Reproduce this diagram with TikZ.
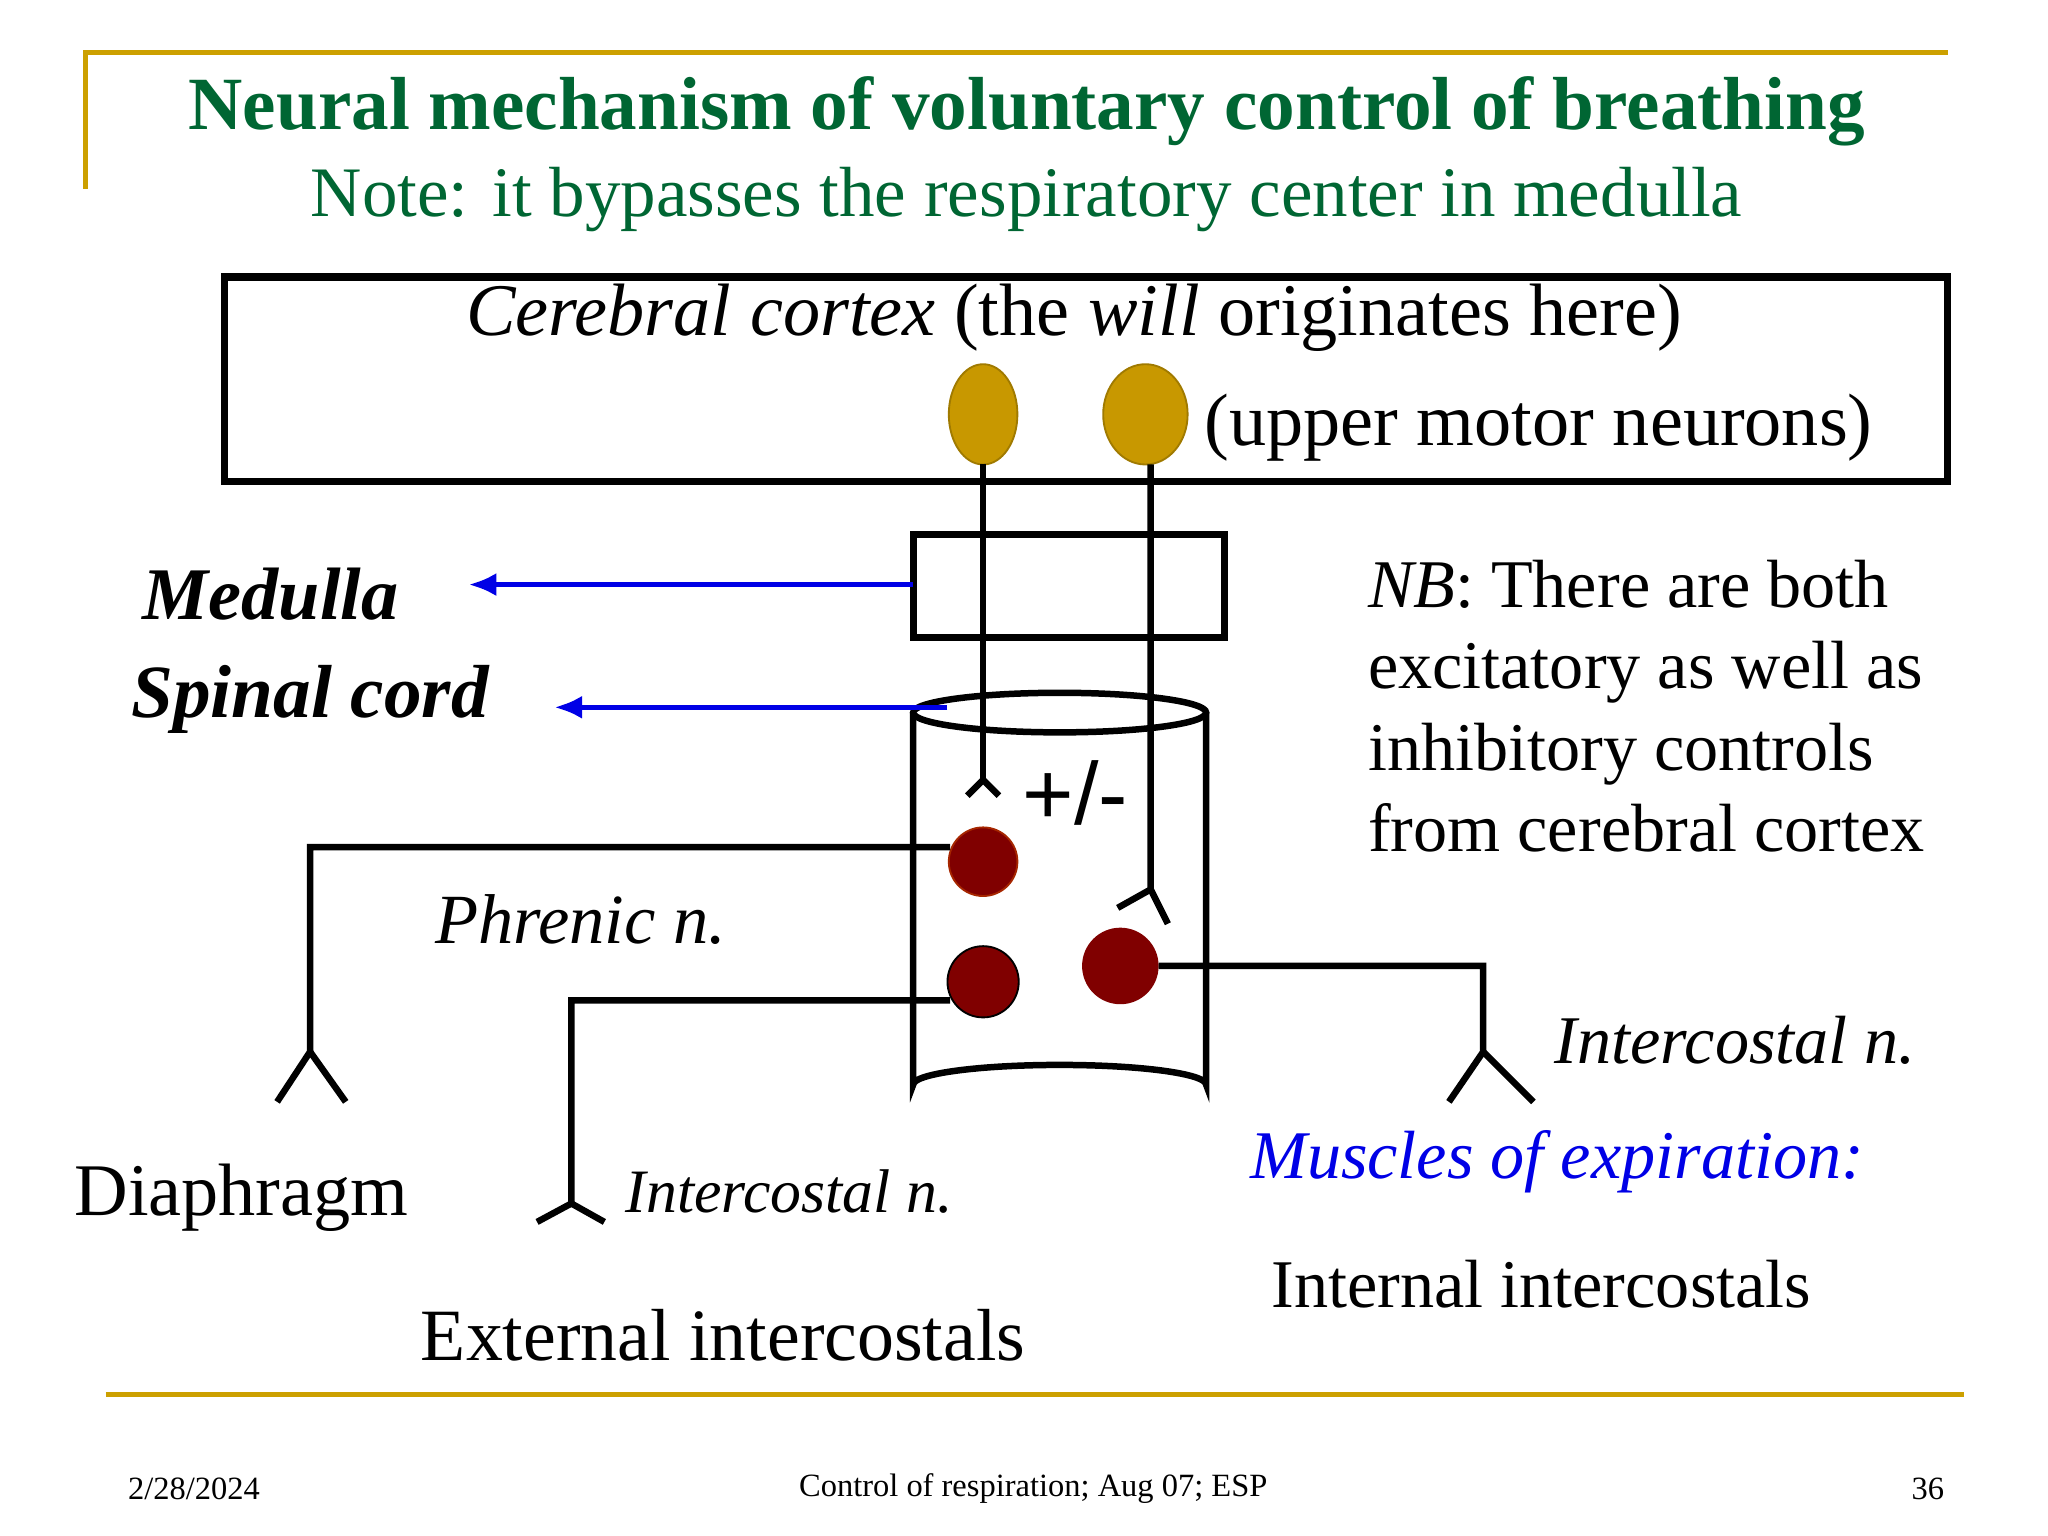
\documentclass[tikz,border=0pt]{standalone}
\usepackage{fontspec}
\usetikzlibrary{arrows.meta}
\setmainfont{Liberation Serif}
\newfontfamily\sansf{Liberation Sans}
\definecolor{gold}{RGB}{204,160,0}
\definecolor{neur}{RGB}{200,152,0}
\definecolor{ttl}{RGB}{0,102,51}
\definecolor{dred}{RGB}{128,0,0}
\definecolor{bl}{RGB}{0,0,230}
\begin{document}
\begin{tikzpicture}[x=0.01cm,y=-0.01cm,
  thk/.style={line width=1.4pt},
  arr/.style={bl,line width=1.2pt,-{Latex[length=6pt,width=5pt]}},
  big/.style={font=\fontsize{16}{18}\selectfont}]
\useasboundingbox (0,0) rectangle (1552,1164);
\draw[gold,line width=1pt] (65,143) -- (65,40) -- (1476,40);
\draw[gold,line width=1pt] (80,1057) -- (1488,1057);
\node[ttl,font=\fontsize{16.2}{18}\bfseries\selectfont] (t1) at (778,84) {Neural mechanism of voluntary control of breathing};
\node[ttl,font=\fontsize{15.3}{17}\selectfont] (t2) at (778,151) {Note: it bypasses the respiratory center in medulla};
\draw[line width=1.6pt] (170,210) rectangle (1476,365);
\node[big] (cc) at (814,241) {\textit{Cerebral cortex} (the \textit{will} originates here)};
\node[big] (umn) at (1166,324) {(upper motor neurons)};
\fill[neur,draw=neur!80!black] (745,314) ellipse [x radius=26, y radius=38];
\fill[neur,draw=neur!80!black] (868,314) ellipse [x radius=32, y radius=38];
\draw[thk] (745,352) -- (745,590);
\draw[thk] (733,603) -- (745,591) -- (757,603);
\draw[thk] (872,352) -- (872,674) -- (847,688);
\draw[thk] (872,674) -- (885,700);
\draw[line width=1.5pt] (692,405) rectangle (928,483);
\draw[thk] (692,540) -- (692,822) arc[start angle=180,end angle=360,x radius=111,y radius=15] -- (914,540);
\draw[thk] (803,540) ellipse [x radius=111, y radius=15];
\draw[arr] (692,443) -- (355,443);
\draw[arr] (718,536) -- (420,536);
\node[font=\sansf\fontsize{19}{21}\selectfont] (pm) at (815,601) {+/-};
\filldraw[fill=dred,draw=dred!70!orange] (745,653) circle (26);
\filldraw[fill=dred,draw=black] (745,744) circle (27);
\fill[dred] (849,732) circle (29);
\draw[thk] (720,642) -- (235,642) -- (235,797) -- (210,835);
\draw[thk] (235,797) -- (262,835);
\draw[thk] (720,758) -- (433,758) -- (433,912) -- (407,926);
\draw[thk] (433,912) -- (458,926);
\draw[thk] (878,732) -- (1124,732) -- (1124,797) -- (1098,835);
\draw[thk] (1124,797) -- (1162,835);
\node[font=\fontsize{16}{18}\bfseries\itshape\selectfont] (m) at (205,450) {Medulla};
\node[font=\fontsize{16.2}{18}\bfseries\itshape\selectfont] (sc) at (235,530) {Spinal cord};
\node[font=\fontsize{14.7}{17.5}\selectfont,align=left,anchor=north west,inner sep=0pt] (nb) at (1036,424) {\textit{NB}: There are both\\excitatory as well as\\inhibitory controls\\from cerebral cortex};
\node[font=\itshape\fontsize{15.2}{17}\selectfont] (ph) at (440,697) {Phrenic n.};
\node[font=\itshape\fontsize{14.7}{16}\selectfont] (ic1) at (1315,788) {Intercostal n.};
\node[bl,font=\itshape\fontsize{14.7}{16}\selectfont] (me) at (1180,880) {Muscles of expiration:};
\node[font=\fontsize{14.7}{16}\selectfont] (ii) at (1168,973) {Internal intercostals};
\node[big] (dia) at (183,908) {Diaphragm};
\node[font=\itshape\fontsize{13.3}{15}\selectfont] (ic2) at (598,903) {Intercostal n.};
\node[font=\fontsize{15.9}{18}\selectfont] (ei) at (548,1012) {External intercostals};
\node[font=\fontsize{7}{8}\selectfont] (f1) at (147,1128) {2/28/2024};
\node[font=\fontsize{7}{8}\selectfont] (f2) at (783,1128) {Control of respiration; Aug 07; ESP};
\node[font=\fontsize{7}{8}\selectfont] (f3) at (1461,1128) {36};
\end{tikzpicture}
\end{document}
